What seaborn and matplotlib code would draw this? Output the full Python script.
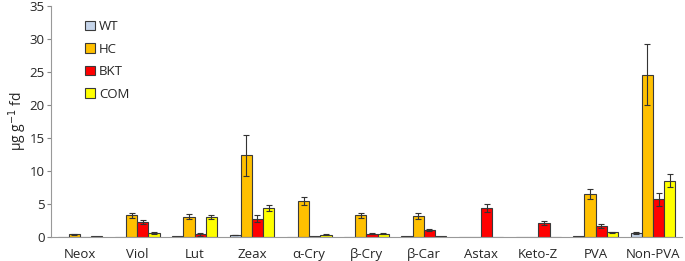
import matplotlib
matplotlib.use("Agg")
import matplotlib.pyplot as plt
import seaborn as sns
import pandas as pd
import numpy as np

categories = ["Neox", "Viol", "Lut", "Zeax", "α-Cry", "β-Cry", "β-Car", "Astax", "Keto-Z", "PVA", "Non-PVA"]
lines = ["WT", "HC", "BKT", "COM"]
wt_vals = [0.0, 0.05, 0.1, 0.3, 0.0, 0.05, 0.1, 0.0, 0.0, 0.15, 0.6]
hc_vals = [0.4, 3.3, 3.1, 12.4, 5.4, 3.3, 3.2, 0.0, 0.0, 6.5, 24.6]
bkt_vals = [0.0, 2.2, 0.4, 2.8, 0.15, 0.5, 1.0, 4.4, 2.1, 1.6, 5.7]
com_vals = [0.1, 0.6, 3.0, 4.4, 0.35, 0.5, 0.1, 0.0, 0.0, 0.7, 8.5]
wt_err = [0.0, 0.0, 0.0, 0.05, 0.0, 0.0, 0.0, 0.0, 0.0, 0.0, 0.1]
hc_err = [0.05, 0.4, 0.35, 3.1, 0.6, 0.35, 0.4, 0.0, 0.0, 0.8, 4.6]
bkt_err = [0.0, 0.3, 0.2, 0.5, 0.0, 0.1, 0.15, 0.6, 0.3, 0.3, 1.0]
com_err = [0.0, 0.1, 0.35, 0.4, 0.05, 0.05, 0.0, 0.0, 0.0, 0.1, 1.0]
colors = ["#C6D5EA", "#FFC000", "#FF0000", "#FFFF00"]

vals = [wt_vals, hc_vals, bkt_vals, com_vals]
errs = [wt_err, hc_err, bkt_err, com_err]
rows = []
for li, line in enumerate(lines):
    for ci, cat in enumerate(categories):
        rows.append({"cat": cat, "line": line, "val": vals[li][ci], "err": errs[li][ci]})
df = pd.DataFrame(rows)

sns.set_style("white")
plt.rcParams['font.family'] = ['Open Sans', 'DejaVu Sans']

fig = plt.figure(figsize=(6.85, 2.61), dpi=100)
ax = fig.add_axes([0.075, 0.092, 0.92, 0.885])

sns.barplot(data=df, x="cat", y="val", hue="line", hue_order=lines, order=categories,
            palette=colors, errorbar=None, width=0.78, edgecolor="#3a3a3a", linewidth=0.8,
            ax=ax, saturation=1)

# error bars at the bar centres
patches = [p for p in ax.patches if p.get_width() > 0][:len(df)]
for p, (_, r) in zip(patches, df.iterrows()):
    if r["err"] > 0:
        ax.errorbar(p.get_x() + p.get_width() / 2, p.get_height(), yerr=r["err"],
                    fmt="none", ecolor="#333333", elinewidth=0.8, capsize=2.5, capthick=0.8)

ax.set_xlim(-0.5, 10.5)
ax.set_ylim(0, 35)
ax.set_yticks(range(0, 36, 5))
ax.set_xlabel("")
ax.set_ylabel(r"μg g$^{-1}$ fd", fontsize=10)
ax.yaxis.set_label_coords(-0.035, 0.5)
ax.tick_params(axis="y", labelsize=9.5, length=3, color="#888888", left=True, pad=2)
ax.tick_params(axis="x", labelsize=9.5, length=0, pad=8)
for s in ["top", "right"]:
    ax.spines[s].set_visible(False)
for s in ["left", "bottom"]:
    ax.spines[s].set_color("#999999")
    ax.spines[s].set_linewidth(0.8)

leg = ax.legend(loc="upper left", bbox_to_anchor=(0.035, 0.99), frameon=False, fontsize=9.5,
                handlelength=0.75, handleheight=0.75, handletextpad=0.3, labelspacing=0.72)
fig.savefig("out.png", dpi=100)
